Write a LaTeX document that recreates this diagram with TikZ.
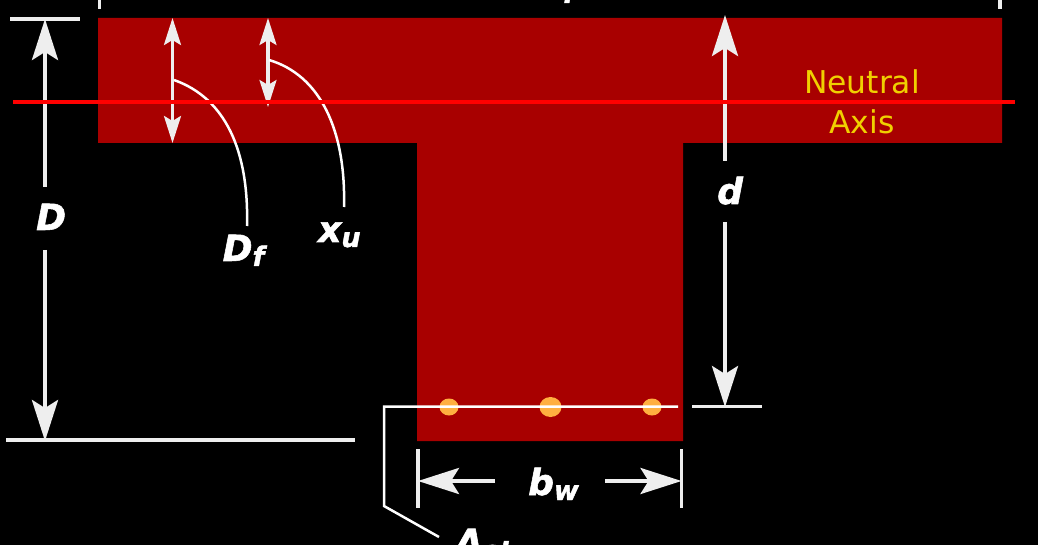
\documentclass[tikz,border=0pt]{standalone}
\usepackage{fontspec}
\setmainfont{DejaVu Sans}
\newfontfamily\dimfont[FakeBold=1.5]{DejaVu Sans Bold Oblique}
\usetikzlibrary{arrows.meta}
\definecolor{beam}{HTML}{A80000}
\definecolor{naxis}{HTML}{FF0000}
\definecolor{dimc}{HTML}{EEEEEE}
\definecolor{bar}{HTML}{FFAF40}
\definecolor{natext}{HTML}{F0D000}
\newcommand{\dimlabel}[2]{\fontsize{36}{36}\dimfont #1\raisebox{-5pt}{\fontsize{27}{27}\dimfont #2}}
\tikzset{
  x=1pt,y=-1pt,
  bigdim/.style={draw=dimc,line width=4pt,-{Stealth[length=41pt,width=26pt,inset=8pt]}},
  smalldim/.style={draw=dimc,line width=3.2pt,{Stealth[length=27pt,width=17pt,inset=5pt]}-{Stealth[length=27pt,width=17pt,inset=5pt]}},
  tick/.style={draw=dimc,line width=3.5pt},
  leader/.style={draw=white,line width=2.5pt},
  rebar/.style={fill=bar,draw=none},
  dimtext/.style={text=white,inner sep=0pt,anchor=base west},
  natxt/.style={text=natext,inner sep=0pt,font=\fontsize{31.4}{31.4}\selectfont,anchor=base}
}
\begin{document}
\begin{tikzpicture}
\useasboundingbox (0,0) rectangle (1038,545);
\clip (0,0) rectangle (1038,545);
\fill[black] (0,0) rectangle (1038,545);
% beam
\fill[beam] (98,18) -- (1002,18) -- (1002,143) -- (683,143) -- (683,441) -- (417,441) -- (417,143) -- (98,143) -- cycle;
% named points
\coordinate (topL) at (10,19); \coordinate (topR) at (80,19);
\coordinate (botL) at (6,440); \coordinate (botR) at (355,440);
\coordinate (dtL) at (692,406.5); \coordinate (dtR) at (762,406.5);
\coordinate (DT) at (45,19); \coordinate (DB) at (45,441);
\coordinate (dT) at (725,15); \coordinate (dB) at (725,407);
\coordinate (bL) at (418,481); \coordinate (bR) at (681.5,481);
\coordinate (fT) at (172.5,18); \coordinate (fB) at (172.5,143); \coordinate (fM) at (174,80);
\coordinate (xT) at (268,18); \coordinate (xB) at (268,107); \coordinate (xM) at (269,60);
\coordinate (naL) at (13,102); \coordinate (naR) at (1015,102);
\coordinate (lA) at (678,406.5); \coordinate (lB) at (384,406.5); \coordinate (lC) at (384,506); \coordinate (lD) at (439,537);
\coordinate (wL1) at (99.5,-5); \coordinate (wL2) at (99.5,9);
\coordinate (wR1) at (1000,-5); \coordinate (wR2) at (1000,9);
% labels
\node[dimtext] (Dlab) at (36,230) {\dimlabel{D}{}};
\node[dimtext] (Dflab) at (222.5,261) {\dimlabel{D}{f}};
\node[dimtext] (xulab) at (318,242) {\dimlabel{x}{u}};
\node[dimtext] (dlab) at (717,204) {\dimlabel{d}{}};
\node[dimtext] (bwlab) at (528,495) {\dimlabel{b}{w}};
\node[dimtext] (Astlab) at (455,555) {\dimlabel{A}{st}};
\node[dimtext] (bflab) at (537,-2) {\dimlabel{b}{f}};
\node[natxt] (na1) at (862,94) {Neutral};
\node[natxt] (na2) at (862,134) {Axis};
% ticks
\draw[tick] (topL) -- (topR);
\draw[tick] (botL) -- (botR);
\draw[tick] (dtL) -- (dtR);
\draw[tick] (wL1) -- (wL2);
\draw[tick] (wR1) -- (wR2);
\draw[tick] (418,449) -- (418,508);
\draw[tick] (681.5,449) -- (681.5,508);
% dimensions
\draw[bigdim] (45,187) -- (DT);
\draw[bigdim] (45,250) -- (DB);
\draw[bigdim] (725,161) -- (dT);
\draw[bigdim] (725,222) -- (dB);
\draw[bigdim] (495,481) -- (bL);
\draw[bigdim] (605,481) -- (bR);
\draw[smalldim] (fT) -- (fB);
\draw[smalldim] (xT) -- (xB);
% rebars
\fill[rebar] (449,407) ellipse [x radius=9.5,y radius=8.5];
\fill[rebar] (550.5,407) ellipse [x radius=11,y radius=10];
\fill[rebar] (652,407) ellipse [x radius=9.5,y radius=8.5];
% leaders
\draw[leader] (fM) .. controls (225,98) and (249,150) .. (247,226);
\draw[leader] (xM) .. controls (320,75) and (346,130) .. (344,207);
\draw[leader] (lA) -- (lB) -- (lC) -- (lD);
% neutral axis
\draw[naxis,line width=3.5pt] (naL) -- (naR);
\end{tikzpicture}
\end{document}
